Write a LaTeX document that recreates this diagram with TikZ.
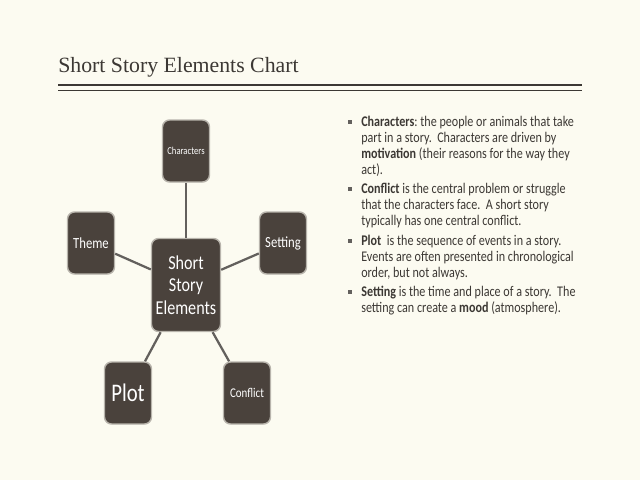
\documentclass[tikz,border=0pt]{standalone}
\usepackage{fontspec}
\setmainfont[FakeStretch=0.82]{Carlito}
\newfontfamily\titlefont{Liberation Serif}
\definecolor{paper}{HTML}{FCFBF1}
\definecolor{boxfill}{HTML}{4A423C}
\definecolor{boxline}{HTML}{B8B4AC}
\definecolor{ink}{HTML}{3C3834}
\tikzset{
  elem/.style={draw=boxline, line width=1pt, fill=boxfill, rounded corners=5pt,
    minimum width=47*0.025cm, minimum height=62*0.025cm, text=white, inner sep=1pt, align=center},
  spoke/.style={draw=ink!80, line width=1.6pt},
  note/.style={anchor=north west, text width=218*0.025cm, align=flush left, text=ink,
    font=\fontsize{10.5}{11.4}\selectfont, inner sep=0pt},
  dot/.style={fill=ink!80, minimum size=2.5pt, inner sep=0pt}
}
\begin{document}
\begin{tikzpicture}[x=0.025cm,y=-0.025cm]
\fill[paper] (0,0) rectangle (640,480);
\useasboundingbox (0,0) rectangle (640,480);
% heading
\node[anchor=base west, text=ink, font=\titlefont\fontsize{15.5}{18}\selectfont, inner sep=0pt] (title) at (58,72) {Short Story Elements Chart};
\draw[ink, line width=2pt] (58,85) -- (582,85);
\draw[ink, line width=0.6pt] (58,90) -- (582,90);
% chart
\node[elem, minimum width=69*0.025cm, minimum height=93*0.025cm, font=\fontsize{14}{16}\selectfont] (core) at (186,285) {Short\\Story\\Elements};
\node[elem, font=\fontsize{7.5}{8}\selectfont] (chars) at (186,151) {Characters};
\node[elem, font=\fontsize{11}{12}\selectfont] (theme) at (91,243) {Theme};
\node[elem, font=\fontsize{11}{12}\selectfont] (setting) at (283,243) {Setting};
\node[elem, font=\fontsize{18}{20}\selectfont] (plot) at (128,393) {Plot};
\node[elem, font=\fontsize{9.5}{11}\selectfont] (conflict) at (247,393) {Conflict};
\foreach \n in {chars,theme,setting,plot,conflict}
  \draw[spoke] (core) -- (\n);
% notes
\node[note] (n1) at (361,116) {\textbf{Characters}:\ the people or animals that take part in a story.\ \ Characters are driven by \textbf{motivation} (their reasons for the way they act).};
\node[note] (n2) at (361,183) {\textbf{Conflict} is the central problem or struggle that the characters face.\ \ A short story typically has one central conflict.};
\node[note] (n3) at (361,235) {\textbf{Plot} \ is the sequence of events in a story.\ \ Events are often presented in chronological order, but not always.};
\node[note] (n4) at (361,286) {\textbf{Setting} is the time and place of a story.\ \ The setting can create a \textbf{mood} (atmosphere).};
\foreach \n in {n1,n2,n3,n4}
  \node[dot] at ([xshift=-11*0.025cm, yshift=-6*0.025cm]\n.north west) {};
\end{tikzpicture}
\end{document}
